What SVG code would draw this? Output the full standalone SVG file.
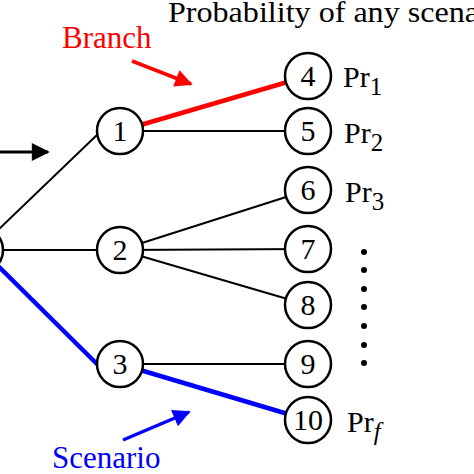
<svg xmlns="http://www.w3.org/2000/svg" width="474" height="474" viewBox="0 0 474 474">
  <defs>
    <style>
      .node circle { fill: #ffffff; stroke: #000000; stroke-width: 2.5; }
      .node text { font-family: "Liberation Serif", "Times New Roman", serif; font-size: 30px; fill: #000; text-anchor: middle; }
      .edge { stroke: #000; stroke-width: 2; fill: none; }
      .red { stroke: #ff0000; stroke-width: 4.5; fill: none; }
      .blue { stroke: #0000ff; stroke-width: 4.5; fill: none; }
      .arrowK { stroke: #000; stroke-width: 3; fill: none; }
      .arrowR { stroke: #ff0000; stroke-width: 3.5; fill: none; }
      .arrowB { stroke: #0000ff; stroke-width: 3.5; fill: none; }
      .lbl { font-family: "Liberation Serif", "Times New Roman", serif; font-size: 30px; fill: #000; }
      .sub { font-size: 25px; }
      .dot { fill: #000; }
    </style>
    <marker id="ahBlack" viewBox="0 0 10 10" refX="9" refY="5" markerWidth="6.5" markerHeight="6" orient="auto" markerUnits="strokeWidth">
      <path d="M0,0 L10,5 L0,10 Z" fill="#000"/>
    </marker>
    <marker id="ahRed" viewBox="0 0 10 10" refX="9" refY="5" markerWidth="6" markerHeight="5" orient="auto" markerUnits="strokeWidth">
      <path d="M0,0 L10,5 L0,10 Z" fill="#ff0000"/>
    </marker>
    <marker id="ahBlue" viewBox="0 0 10 10" refX="9" refY="5" markerWidth="6" markerHeight="5" orient="auto" markerUnits="strokeWidth">
      <path d="M0,0 L10,5 L0,10 Z" fill="#0000ff"/>
    </marker>
  </defs>

  <rect x="0" y="0" width="474" height="474" fill="#ffffff"/>

  <text id="title" class="lbl" x="168" y="22" style="font-size:30px" textLength="311" lengthAdjust="spacingAndGlyphs">Probability of any scena</text>

  <g id="connectors">
    <line class="edge" x1="-5" y1="233" x2="99" y2="133"/>
    <line class="edge" x1="-20" y1="250" x2="120" y2="250"/>
    <line class="blue" x1="-5" y1="263" x2="98" y2="365"/>
    <line class="red" x1="120" y1="131" x2="308" y2="76"/>
    <line class="edge" x1="120" y1="131" x2="308" y2="131"/>
    <line class="edge" x1="120" y1="250" x2="308" y2="190"/>
    <line class="edge" x1="120" y1="250" x2="308" y2="249"/>
    <line class="edge" x1="120" y1="250" x2="308" y2="305"/>
    <line class="edge" x1="120" y1="364" x2="308" y2="364"/>
    <line class="blue" x1="120" y1="364" x2="308" y2="420"/>
    <line class="arrowK" x1="0" y1="152" x2="48" y2="152" marker-end="url(#ahBlack)"/>
    <line class="arrowR" x1="132" y1="61" x2="191" y2="84" marker-end="url(#ahRed)"/>
    <line class="arrowB" x1="123" y1="440" x2="189" y2="412" marker-end="url(#ahBlue)"/>
  </g>

  <g id="node0" class="node"><circle cx="-20" cy="250" r="23"/></g>
  <g id="node1" class="node"><circle cx="120" cy="131" r="23"/><text x="120" y="141">1</text></g>
  <g id="node2" class="node"><circle cx="120" cy="250" r="23"/><text x="120" y="260">2</text></g>
  <g id="node3" class="node"><circle cx="120" cy="364" r="23"/><text x="120" y="374">3</text></g>
  <g id="node4" class="node"><circle cx="308" cy="76" r="23"/><text x="308" y="86">4</text></g>
  <g id="node5" class="node"><circle cx="308" cy="131" r="23"/><text x="308" y="141">5</text></g>
  <g id="node6" class="node"><circle cx="308" cy="190" r="23"/><text x="308" y="200">6</text></g>
  <g id="node7" class="node"><circle cx="308" cy="249" r="23"/><text x="308" y="259">7</text></g>
  <g id="node8" class="node"><circle cx="308" cy="305" r="23"/><text x="308" y="315">8</text></g>
  <g id="node9" class="node"><circle cx="308" cy="364" r="23"/><text x="308" y="374">9</text></g>
  <g id="node10" class="node"><circle cx="308" cy="420" r="23"/><text x="308" y="430">10</text></g>

  <g id="labels">
    <text class="lbl" x="343" y="87">Pr<tspan class="sub" dy="8">1</tspan></text>
    <text class="lbl" x="344" y="143">Pr<tspan class="sub" dy="8">2</tspan></text>
    <text class="lbl" x="345" y="202">Pr<tspan class="sub" dy="8">3</tspan></text>
    <text class="lbl" x="347" y="432">Pr<tspan class="sub" dy="8" font-style="italic">f</tspan></text>
    <text class="lbl" x="62" y="48" style="fill:#ff0000;font-size:31px">Branch</text>
    <text class="lbl" x="52" y="468" style="fill:#0000ff;font-size:31px">Scenario</text>
  </g>

  <g id="ellipsis">
    <circle class="dot" cx="364" cy="252" r="3"/>
    <circle class="dot" cx="364" cy="270" r="3"/>
    <circle class="dot" cx="364" cy="289" r="3"/>
    <circle class="dot" cx="364" cy="307" r="3"/>
    <circle class="dot" cx="364" cy="326" r="3"/>
    <circle class="dot" cx="364" cy="345" r="3"/>
    <circle class="dot" cx="364" cy="363" r="3"/>
  </g>
</svg>
